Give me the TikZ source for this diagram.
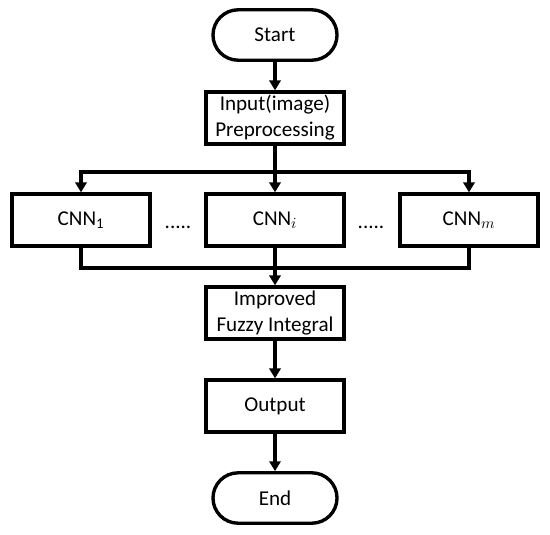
\documentclass[tikz,border=0pt]{standalone}
\usepackage{fontspec}
\setmainfont{Carlito}
\usepackage{tikz}
\usetikzlibrary{arrows.meta}

\begin{document}
\begin{tikzpicture}[x=.025cm, y=-.025cm,
		every node/.style={font=\fontsize{15}{18.5}\selectfont, align=center},
		blk/.style={draw, line width=2.4pt, minimum width=3.45cm, minimum height=1.3cm, inner sep=0pt},
		term/.style={draw, line width=2.4pt, minimum width=3.1cm, minimum height=1.26cm, rounded corners=.63cm},
		arr/.style={line width=2.4pt, -{Triangle[width=8pt,length=7pt]}},
		ln/.style={line width=2.4pt}]
				\useasboundingbox (0,0) rectangle (550,534);
				% flow nodes
				\node[term] (start) at (275,35) {Start};
				\node[blk] (input) at (275,118) {Input(image)\\Preprocessing};
				\node[blk] (cnn1) at (81,220) {CNN\textsubscript{1}};
				\node[blk] (cnni) at (275,220) {CNN\textsubscript{$i$}};
				\node[blk] (cnnm) at (469,220) {CNN\textsubscript{$m$}};
				\node[anchor=base] (dl) at (178,228) {.....};
				\node[anchor=base] (dr) at (371,228) {.....};
				\node[blk] (fuzzy) at (275,313) {Improved\\Fuzzy Integral};
				\node[blk] (output) at (275,406) {Output};
				\node[term] (end) at (275,498) {End};
				\coordinate (split) at (275,172);
				\coordinate (merge) at (275,268);
				% connectors
				\draw[arr] (start) -- (input);
				\draw[ln] (input) -- (split);
				\foreach \c in {cnn1,cnnm} {
					\draw[arr] (split) -| (\c);
					\draw[ln] (\c) |- (merge);
				}
				\draw[arr] (split) -- (cnni);
				\draw[ln] (cnni) -- (merge);
				\draw[arr] (merge) -- (fuzzy);
				\draw[arr] (fuzzy) -- (output);
				\draw[arr] (output) -- (end);
			\end{tikzpicture}
\end{document}
